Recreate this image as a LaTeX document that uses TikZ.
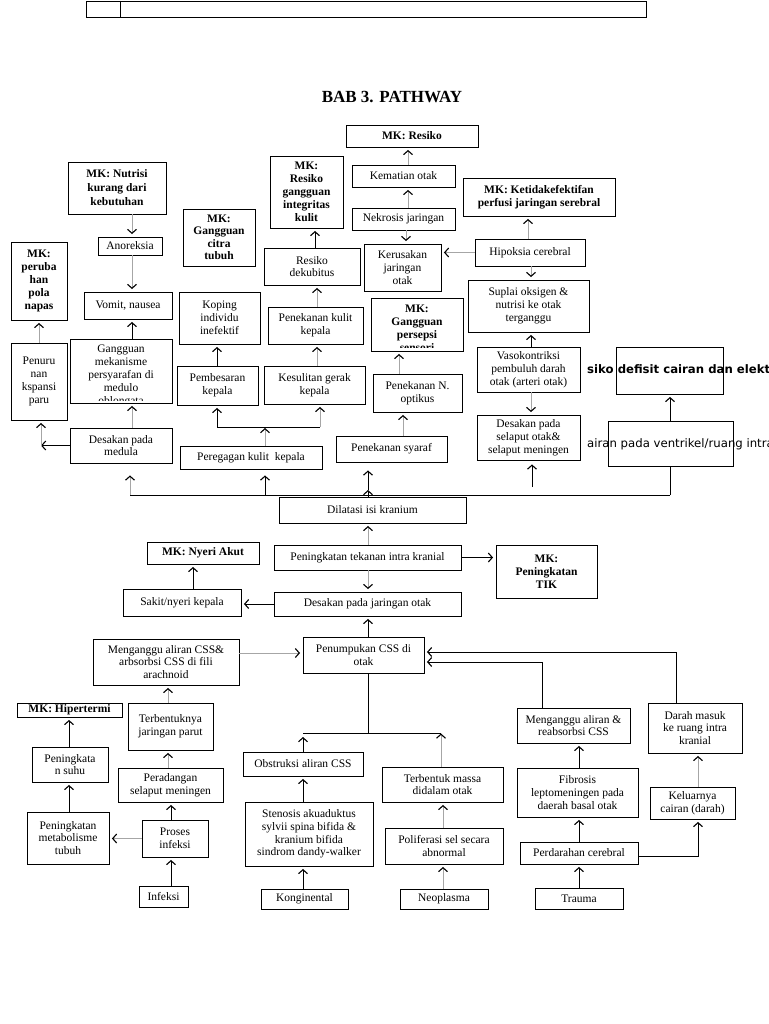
\documentclass[tikz,border=0pt]{standalone}
\usepackage{fontspec}
\setmainfont{Liberation Serif}
\newfontfamily\dejavu{DejaVu Sans}
\usetikzlibrary{arrows.meta}
\newcommand\rgf{\fontsize{11.5}{12.8}\selectfont}
\newcommand\bdf{\fontsize{11.5}{13}\selectfont\bfseries}
\newcommand\mkbox[7][]{%
  \pgfmathsetmacro\mbw{#5-#3}%
  \pgfmathsetmacro\mbh{#6-#4}%
  \pgfmathsetmacro\mbx{(#3+#5)/2}%
  \pgfmathsetmacro\mby{(#4+#6)/2}%
  \node[box,minimum width=\mbw pt,minimum height=\mbh pt,#1] (#2) at (\mbx,\mby) {#7};%
}
\begin{document}
\begin{tikzpicture}[x=1pt,y=-1pt,
  box/.style={draw,line width=0.9pt,fill=white,inner sep=1pt,align=center,font=\rgf},
  bold/.style={font=\bdf},
  txt/.style={align=center,inner sep=0pt,font=\rgf},
  ln/.style={line width=0.8pt,black},
  lg/.style={line width=0.8pt,black!35},
  ar/.style={-{Straight Barb[length=4pt,width=9pt,line width=1.1pt,color=black]},shorten >=2.5pt}]
\useasboundingbox (0,0) rectangle (768,1024);
\fill[white] (0,0) rectangle (768,1024);

% header fragment and title
\draw[line width=0.8pt] (86,1) rectangle (646,17);
\draw[line width=0.8pt] (120,1) -- (120,17);
\node[font=\fontsize{17}{19}\selectfont\bfseries] (title) at (392,97) {BAB 3. PATHWAY};

% ---------- upper part ----------
\mkbox[bold,font=\fontsize{11.5}{14}\selectfont\bfseries]{nutrisi}{68}{162}{166}{214}{MK: Nutrisi\\kurang dari\\kebutuhan}
\mkbox{anoreksia}{98}{237}{162}{255}{Anoreksia}
\mkbox{vomit}{84}{292}{172}{319}{Vomit, nausea}
\mkbox[bold]{napas}{11}{242}{67}{320}{MK:\\peruba\\han\\pola\\napas}
\mkbox[bold,font=\fontsize{11.5}{12.4}\selectfont\bfseries]{citra}{183}{209}{255}{266}{MK:\\Gangguan\\citra\\tubuh}
\mkbox{koping}{179}{292}{260}{344}{Koping\\individu\\inefektif}
\mkbox{penurunan}{11}{343}{67}{420}{Penuru\\nan\\kspansi\\paru}
\mkbox{gangguan}{70}{339}{172}{403}{}
\begin{scope}
\clip (71,340) rectangle (171,400);
\node[txt,anchor=north] (gangguantxt) at (121,345) {Gangguan\\mekanisme\\persyarafan di\\medulo\\oblongata};
\end{scope}
\mkbox{medula}{70}{428}{172}{463}{Desakan pada\\medula}
\mkbox{pembesaran}{177}{366}{258}{405}{Pembesaran\\kepala}
\mkbox{peregagan}{180}{446}{322}{469}{Peregagan kulit\ \ kepala}
\mkbox{kesulitan}{264}{366}{365}{404}{Kesulitan gerak\\kepala}
\mkbox{penkulit}{268}{307}{363}{344}{Penekanan kulit\\kepala}
\mkbox{dekubitus}{264}{248}{360}{285}{Resiko\\dekubitus}
\mkbox[bold]{integritas}{270}{156}{343}{228}{MK:\\Resiko\\gangguan\\integritas\\kulit}
\mkbox[bold]{resiko}{346}{125}{478}{147}{MK: Resiko}
\mkbox{kematian}{352}{165}{455}{187}{Kematian otak}
\mkbox{nekrosis}{352}{208}{455}{230}{Nekrosis jaringan}
\mkbox{kerusakan}{364}{244}{441}{291}{Kerusakan\\jaringan\\otak}
\mkbox{hipoksia}{475}{239}{585}{266}{Hipoksia cerebral}
\mkbox[bold]{perfusi}{463}{178}{615}{216}{MK: Ketidakefektifan\\perfusi jaringan serebral}
\mkbox{suplai}{468}{280}{589}{332}{Suplai oksigen \&\\nutrisi ke otak\\terganggu}
\mkbox{vaso}{477}{347}{580}{392}{Vasokontriksi\\pembuluh darah\\otak (arteri otak)}
\mkbox{selaput}{477}{415}{580}{460}{Desakan pada\\selaput otak\&\\selaput meningen}
\mkbox{defisit}{616}{347}{723}{394}{}
\mkbox{ventrikel}{608}{421}{733}{466}{}
\mkbox{persepsi}{371}{298}{463}{351}{}
\begin{scope}
\clip (372,299) rectangle (462,347);
\node[txt,anchor=north,font=\bdf] (persepsitxt) at (417,304.5) {MK:\\Gangguan\\persepsi\\sensori};
\end{scope}
\mkbox{optikus}{373}{374}{462}{412}{Penekanan N.\\optikus}
\mkbox{syaraf}{336}{436}{447}{462}{Penekanan syaraf}

\node[anchor=base west,inner sep=0pt,font=\fontsize{11.7}{13}\selectfont\dejavu\bfseries] (defisittxt) at (587,373) {siko defisit cairan dan elektrolit};
\node[anchor=base west,inner sep=0pt,font=\fontsize{11.7}{13}\selectfont\dejavu] (ventrikeltxt) at (587,447) {airan pada ventrikel/ruang intrakranial};

% ---------- middle ----------
\mkbox{dilatasi}{279}{497}{466}{523}{Dilatasi isi kranium}
\mkbox{peningkatan}{274}{545}{461}{570}{Peningkatan tekanan intra kranial}
\mkbox[bold]{tik}{496}{545}{597}{598}{MK:\\Peningkatan\\TIK}
\mkbox[bold]{nyeri}{147}{542}{259}{564}{MK: Nyeri Akut}
\mkbox{sakit}{123}{589}{241}{616}{Sakit/nyeri kepala}
\mkbox{desjar}{274}{592}{461}{616}{Desakan pada jaringan otak}
\mkbox{penumpukan}{303}{637}{424}{673}{Penumpukan CSS di\\otak}
\mkbox{mengcss}{93}{639}{239}{685}{Menganggu aliran CSS\&\\arbsorbsi CSS di fili\\arachnoid}

% ---------- lower ----------
\mkbox[bold]{hipertermi}{17}{703}{122}{717}{MK: Hipertermi}
\mkbox{suhu}{32}{747}{108}{782}{Peningkata\\n suhu}
\mkbox{metab}{27}{812}{109}{864}{Peningkatan\\metabolisme\\tubuh}
\mkbox{proses}{142}{820}{208}{857}{Proses\\infeksi}
\mkbox{peradangan}{118}{768}{223}{802}{Peradangan\\selaput meningen}
\mkbox{parut}{128}{703}{213}{750}{Terbentuknya\\jaringan parut}
\mkbox{infeksi}{139}{886}{188}{907}{Infeksi}
\mkbox{obstruksi}{243}{752}{363}{776}{Obstruksi aliran CSS}
\mkbox{stenosis}{245}{802}{373}{866}{Stenosis akuaduktus\\sylvii spina bifida \&\\kranium bifida\\sindrom dandy-walker}
\mkbox{kongenital}{261}{889}{348}{909}{Konginental}
\mkbox{massa}{382}{767}{503}{802}{Terbentuk massa\\didalam otak}
\mkbox{poliferasi}{385}{828}{503}{864}{Poliferasi sel secara\\abnormal}
\mkbox{neoplasma}{400}{889}{488}{909}{Neoplasma}
\mkbox{mengreab}{517}{708}{630}{743}{Menganggu aliran \&\\reabsorbsi CSS}
\mkbox{darah}{648}{703}{742}{753}{Darah masuk\\ke ruang intra\\kranial}
\mkbox{keluarnya}{650}{787}{735}{819}{Keluarnya\\cairan (darah)}
\mkbox{fibrosis}{517}{768}{638}{817}{Fibrosis\\leptomeningen pada\\daerah basal otak}
\mkbox{perdarahan}{520}{842}{638}{864}{Perdarahan cerebral}
\mkbox{trauma}{535}{888}{623}{909}{Trauma}

% ---------- connectors, upper ----------
\coordinate (mL) at (130,495);
\coordinate (mR) at (670,495);
\draw[ln] (mL) -- (mR);
\draw[lg,ar] (nutrisi.south -| 132,0) -- (anoreksia.north -| 132,0);
\draw[lg,ar] (anoreksia.south -| 132,0) -- (vomit.north -| 132,0);
\draw[ln,ar] (gangguan.north -| 132,0) -- (vomit.south -| 132,0);
\draw[lg,ar] (medula.north -| 132,0) -- (gangguan.south -| 132,0);
\draw[lg,ar] (penurunan.north -| 39,0) -- (napas.south -| 39,0);
\coordinate (mc) at (41,446);
\draw[ln,ar,shorten >=0pt] (medula.west) -- (mc |- medula.west);
\draw[lg,ar] (mc |- medula.west) -- (penurunan.south -| mc);
\draw[lg,ar,shorten >=12pt] (mL) -- (medula.south -| mL);
\draw[ln,ar] (pembesaran.north -| 217,0) -- (koping.south -| 217,0);
\coordinate (bL) at (217,427);
\coordinate (bR) at (320,427);
\draw[ln] (bL) -- (bR);
\draw[ln,ar] (bL) -- (pembesaran.south -| bL);
\draw[lg,ar] (bR) -- (kesulitan.south -| bR);
\draw[lg,ar,shorten >=1pt] (peregagan.north -| 265,0) -- (bL -| 265,0);
\draw[ln,ar,shorten >=6pt] (mL -| 265,0) -- (peregagan.south -| 265,0);
\draw[lg,ar] (kesulitan.north -| 317,0) -- (penkulit.south -| 317,0);
\draw[lg,ar] (penkulit.north -| 317,0) -- (dekubitus.south -| 317,0);
\draw[ln,ar] (dekubitus.north -| 315,0) -- (integritas.south -| 315,0);
\draw[lg,ar] (kematian.north -| 408,0) -- (resiko.south -| 408,0);
\draw[lg,ar] (nekrosis.north -| 408,0) -- (kematian.south -| 408,0);
\draw[lg,ar] (nekrosis.south -| 406,0) -- (kerusakan.north -| 406,0);
\draw[lg,ar] (hipoksia.west) -- (kerusakan.east |- hipoksia.west);
\draw[lg,ar] (hipoksia.north -| 528,0) -- (perfusi.south -| 528,0);
\draw[lg,ar] (hipoksia.south -| 531,0) -- (suplai.north -| 531,0);
\draw[ln,ar] (vaso.north -| 531,0) -- (suplai.south -| 531,0);
\draw[lg,ar] (vaso.south -| 531,0) -- (selaput.north -| 531,0);
\coordinate (sf) at (532,487);
\draw[ln,ar,shorten >=4pt] (sf) -- (selaput.south -| sf);
\draw[ln,ar] (ventrikel.north -| 670,0) -- (defisit.south -| 670,0);
\draw[ln] (mR) -- (ventrikel.south -| mR);
\coordinate (dj) at (368,490);
\draw[ln,ar,shorten >=0pt] (dilatasi.north -| dj) -- (dj);
\draw[ln,ar,shorten >=8pt] (dj) -- (syaraf.south -| dj);
\draw[lg,ar] (syaraf.north -| 403,0) -- (optikus.south -| 403,0);
\draw[lg,ar] (optikus.north -| 399,0) -- (persepsi.south -| 399,0);

% ---------- connectors, middle ----------
\draw[lg,ar] (peningkatan.north -| 368,0) -- (dilatasi.south -| 368,0);
\draw[lg,ar] (peningkatan.south -| 368,0) -- (desjar.north -| 368,0);
\draw[ln,ar] (peningkatan.east) -- (tik.west |- peningkatan.east);
\draw[ln,ar] (desjar.west) -- (sakit.east |- desjar.west);
\draw[ln,ar] (sakit.north -| 193,0) -- (nyeri.south -| 193,0);
\draw[ln,ar] (penumpukan.north -| 368,0) -- (desjar.south -| 368,0);
\draw[lg,ar] (mengcss.east |- 0,653) -- (penumpukan.west |- 0,653);
\draw[ln,ar] (mengreab.north -| 542,0) |- (penumpukan.east |- 0,662);
\draw[ln,ar] (darah.north -| 676,0) |- (penumpukan.east |- 0,652);

% ---------- connectors, lower ----------
\coordinate (cL) at (303,733);
\coordinate (cR) at (441,733);
\coordinate (cM) at (368,733);
\draw[ln] (cL) -- (cR);
\draw[ln] (penumpukan.south -| cM) -- (cM);
\draw[ln,ar,shorten >=4pt] (obstruksi.north -| cL) -- (cL);
\draw[lg,ar,shorten >=0.5pt] (massa.north -| cR) -- (cR);
\draw[ln,ar] (stenosis.north -| 303,0) -- (obstruksi.south -| 303,0);
\draw[ln,ar] (kongenital.north -| 303,0) -- (stenosis.south -| 303,0);
\draw[lg,ar] (poliferasi.north -| 443,0) -- (massa.south -| 443,0);
\draw[lg,ar] (neoplasma.north -| 443,0) -- (poliferasi.south -| 443,0);
\draw[lg,ar] (parut.north -| 168,0) -- (mengcss.south -| 168,0);
\draw[lg,ar] (peradangan.north -| 168,0) -- (parut.south -| 168,0);
\draw[ln,ar] (proses.north -| 171,0) -- (peradangan.south -| 171,0);
\draw[ln,ar] (infeksi.north -| 171,0) -- (proses.south -| 171,0);
\draw[lg,ar] (proses.west) -- (metab.east |- proses.west);
\draw[ln,ar] (metab.north -| 69,0) -- (suhu.south -| 69,0);
\draw[ln,ar] (suhu.north -| 69,0) -- (hipertermi.south -| 69,0);
\draw[ln,ar] (fibrosis.north -| 579,0) -- (mengreab.south -| 579,0);
\draw[ln,ar] (perdarahan.north -| 579,0) -- (fibrosis.south -| 579,0);
\draw[ln,ar] (trauma.north -| 579,0) -- (perdarahan.south -| 579,0);
\draw[ln,ar] (perdarahan.east |- 0,856) -| (keluarnya.south -| 698,0);
\draw[lg,ar] (keluarnya.north -| 698,0) -- (darah.south -| 698,0);
\end{tikzpicture}
\end{document}
